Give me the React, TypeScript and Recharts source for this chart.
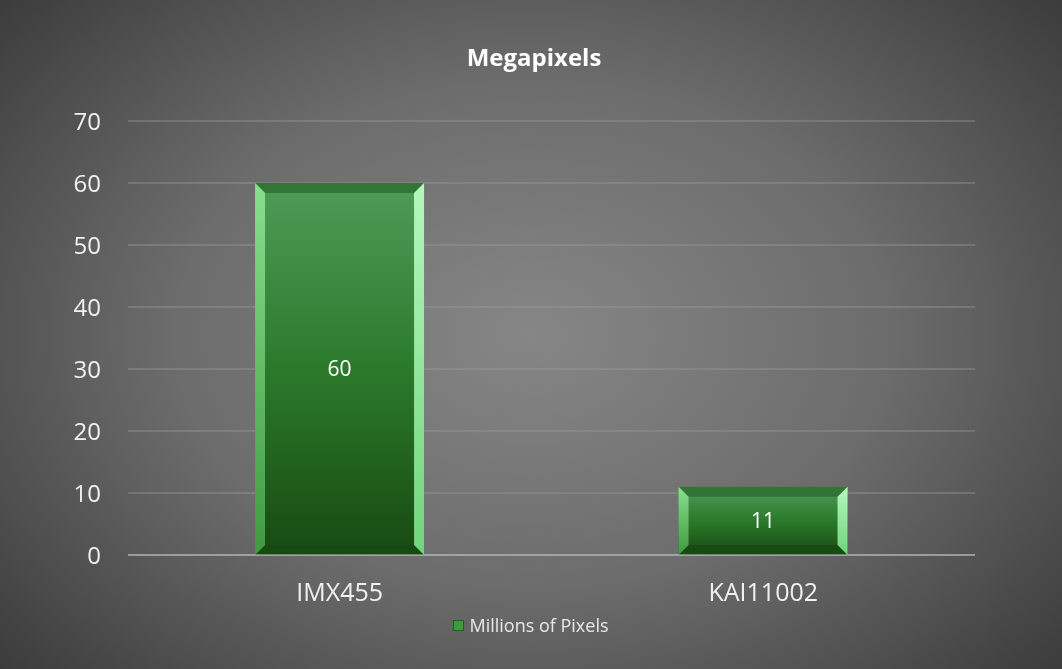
import React from "react";
import { BarChart, Bar, XAxis, YAxis, CartesianGrid, LabelList } from "recharts";

const categories = ["IMX455", "KAI11002"];
const megapixels = [60, 11];
const yTicks = [0, 10, 20, 30, 40, 50, 60, 70];
const seriesName = "Millions of Pixels";

const data = categories.map((name, i) => ({ name, value: megapixels[i] }));

const FONT = "'Open Sans', Lato, sans-serif";

function BevelBar(props: any) {
  const { x, y, width, height } = props;
  if (!height || height <= 0) return null;
  const b = 10;
  const x2 = x + width;
  const y2 = y + height;
  return (
    <g>
      <rect x={x} y={y} width={width} height={height} fill="url(#barFill)" />
      <polygon points={`${x},${y} ${x2},${y} ${x2 - b},${y + b} ${x + b},${y + b}`} fill="#2f6e30" opacity={0.85} />
      <polygon points={`${x},${y2} ${x2},${y2} ${x2 - b},${y2 - b} ${x + b},${y2 - b}`} fill="#174a14" opacity={0.9} />
      <polygon points={`${x},${y} ${x + b},${y + b} ${x + b},${y2 - b} ${x},${y2}`} fill="url(#leftBevel)" />
      <polygon points={`${x2},${y} ${x2 - b},${y + b} ${x2 - b},${y2 - b} ${x2},${y2}`} fill="url(#rightBevel)" />
    </g>
  );
}

export default function App() {
  return (
    <div
      style={{
        position: "fixed",
        left: 0,
        top: 0,
        width: 1062,
        height: 669,
        background: "radial-gradient(ellipse 75% 85% at 50% 50%, #868686 0%, #6c6c6c 45%, #404040 85%, #323232 100%)",
        fontFamily: FONT,
      }}
    >
      <div style={{ position: "absolute", top: 45, left: 0, width: 1068, textAlign: "center", color: "#ffffff", fontWeight: 700, fontSize: 24, lineHeight: 1 }}>
        Megapixels
      </div>
      <BarChart
        width={1062}
        height={669}
        data={data}
        margin={{ top: 121, right: 87, bottom: 40, left: 0 }}
        barCategoryGap="30%"
      >
        <defs>
          <linearGradient id="barFill" x1="0" y1="0" x2="0" y2="1">
            <stop offset="0%" stopColor="#4f9c5a" />
            <stop offset="50%" stopColor="#2b7a2b" />
            <stop offset="100%" stopColor="#184a12" />
          </linearGradient>
          <linearGradient id="leftBevel" x1="0" y1="0" x2="0" y2="1">
            <stop offset="0%" stopColor="#86e08e" />
            <stop offset="100%" stopColor="#3f9a40" />
          </linearGradient>
          <linearGradient id="rightBevel" x1="0" y1="0" x2="0" y2="1">
            <stop offset="0%" stopColor="#b5f7be" />
            <stop offset="100%" stopColor="#6fd47a" />
          </linearGradient>
        </defs>
        <CartesianGrid vertical={false} stroke="#a0a0a0" strokeOpacity={0.7} />
        <XAxis
          dataKey="name"
          stroke="#c8c8c8"
          tickLine={false}
          tickMargin={22}
          height={74}
          tick={{ fill: "#f0f0f0", fontSize: 25, fontFamily: FONT }}
        />
        <YAxis
          domain={[0, 70]}
          ticks={yTicks}
          width={128}
          axisLine={false}
          tickLine={false}
          tickSize={0}
          tickMargin={27}
          tick={{ fill: "#f0f0f0", fontSize: 24, fontFamily: FONT }}
        />
        <Bar dataKey="value" name={seriesName} shape={<BevelBar />} isAnimationActive={false}>
          <LabelList dataKey="value" position="center" fill="#ffffff" fontSize={21} fontFamily={FONT} />
        </Bar>
      </BarChart>
      <div
        style={{
          position: "absolute",
          top: 613,
          left: 0,
          width: 1062,
          display: "flex",
          justifyContent: "center",
          alignItems: "center",
          fontSize: 18,
          color: "#e8e8e8",
        }}
      >
        <span style={{ width: 9, height: 9, background: "#3d9a3d", border: "1px solid #1e5e1e", marginRight: 5, display: "inline-block" }} />
        {seriesName}
      </div>
    </div>
  );
}
